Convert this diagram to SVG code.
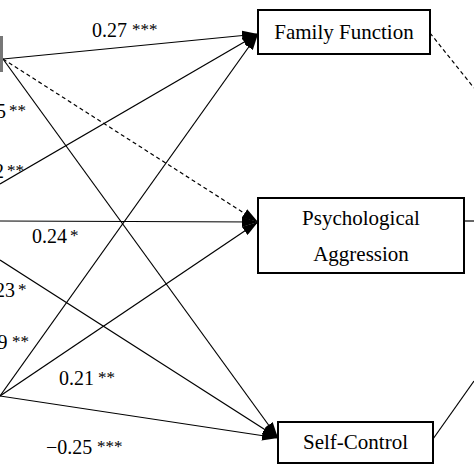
<svg xmlns="http://www.w3.org/2000/svg" width="474" height="474" viewBox="0 0 474 474">
<style>
.box{fill:#fff;stroke:#000;stroke-width:2}
.nt{font-family:"Liberation Serif","Times New Roman",serif;font-size:21px;fill:#000;text-anchor:middle}
.ln{stroke:#000;stroke-width:1.2;fill:none}
.ds{stroke-dasharray:4,3}
.lb{font-family:"Liberation Serif","Times New Roman",serif;font-size:20px;fill:#000}
.st{font-size:17px}
</style>
<defs>
<marker id="ah" markerUnits="userSpaceOnUse" markerWidth="16" markerHeight="10" refX="16" refY="5" orient="auto">
<path d="M0,0 L16,5 L0,10 z" fill="#000"/>
</marker>
</defs>
<rect width="474" height="474" fill="#fff"/>
<g id="connectors">
<line class="ln" x1="3" y1="59" x2="258" y2="34" marker-end="url(#ah)"/>
<line class="ln ds" x1="3" y1="59" x2="258" y2="222" marker-end="url(#ah)"/>
<line class="ln" x1="3" y1="59" x2="278" y2="438" marker-end="url(#ah)"/>
<line class="ln" x1="0" y1="184" x2="258" y2="34" marker-end="url(#ah)"/>
<line class="ln" x1="0" y1="221" x2="258" y2="222" marker-end="url(#ah)"/>
<line class="ln" x1="0" y1="260" x2="278" y2="438" marker-end="url(#ah)"/>
<line class="ln" x1="0" y1="396" x2="258" y2="34" marker-end="url(#ah)"/>
<line class="ln" x1="0" y1="396" x2="258" y2="222" marker-end="url(#ah)"/>
<line class="ln" x1="0" y1="396" x2="278" y2="438" marker-end="url(#ah)"/>
<line class="ln ds" x1="430" y1="33" x2="474" y2="88"/>
<line class="ln" x1="464" y1="221" x2="474" y2="221"/>
<line class="ln" x1="433" y1="439" x2="474" y2="381"/>
</g>
<g id="left-node-stub">
<line x1="1.5" y1="36" x2="1.5" y2="72" stroke="#777" stroke-width="3"/>
</g>
<g id="family-function">
<rect class="box" x="258" y="10" width="172" height="44"/>
<text class="nt" x="344" y="39">Family Function</text>
</g>
<g id="psychological-aggression">
<rect class="box" x="258" y="198" width="206" height="75"/>
<text class="nt" x="361" y="225">Psychological</text>
<text class="nt" x="361" y="261">Aggression</text>
</g>
<g id="self-control">
<rect class="box" x="278" y="422" width="155" height="41"/>
<text class="nt" x="355.5" y="449">Self-Control</text>
</g>
<g id="labels">
<text class="lb" x="92" y="37">0.27<tspan class="st" x="132" dy="-2">***</tspan></text>
<text class="lb" x="-4" y="118">5<tspan class="st" x="9" dy="-2">**</tspan></text>
<text class="lb" x="-6" y="178">2<tspan class="st" x="7" dy="-2">**</tspan></text>
<text class="lb" x="32" y="243">0.24<tspan class="st" x="70" dy="-2">*</tspan></text>
<text class="lb" x="-5" y="297">23<tspan class="st" x="18" dy="-2">*</tspan></text>
<text class="lb" x="-2.5" y="349">9<tspan class="st" x="12" dy="-2">**</tspan></text>
<text class="lb" x="59" y="385">0.21<tspan class="st" x="98" dy="-2">**</tspan></text>
<text class="lb" x="46" y="454">−0.25<tspan class="st" x="97" dy="-2">***</tspan></text>
</g>
</svg>
